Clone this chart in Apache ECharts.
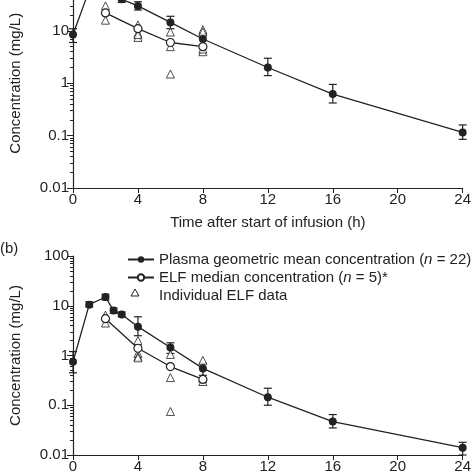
<!DOCTYPE html>
<html>
<head>
<meta charset="utf-8">
<script src="https://cdn.jsdelivr.net/npm/echarts@6/dist/echarts.min.js"></script>
<style>html,body{margin:0;padding:0;background:#fff;overflow:hidden}#chart{position:absolute;left:0;top:-29px;width:474px;height:503px}</style>
</head>
<body>
<div id="chart"></div>
<script>
// panel (a) - top, partly cut off
var timeA = [0, 1, 2, 2.5, 3, 4, 6, 8, 12, 16, 24];
var plasmaA = [8.5, 60, 90, 50, 40, 30, 14.5, 7, 2, 0.62, 0.115];
var plasmaA_lo = [6, 50, 78, 44, 35, 25, 11, 5.5, 1.4, 0.42, 0.085];
var plasmaA_hi = [11, 72, 104, 57, 46, 36, 19, 8.5, 3, 0.95, 0.16];
var elfTimeA = [2, 4, 6, 8];
var elfA = [22, 11, 6, 5];
var indivA = [[2, 16], [2, 30], [4, 13], [4, 9], [4, 7.5], [4, 8.5], [6, 9.5], [6, 5], [6, 1.5], [8, 10.5], [8, 9.5], [8, 4], [8, 4.5]];

// panel (b) - bottom
var timeB = [0, 1, 2, 2.5, 3, 4, 6, 8, 12, 16, 24];
var plasmaB = [0.75, 10.5, 15, 8, 6.7, 3.8, 1.45, 0.55, 0.145, 0.047, 0.014];
var plasmaB_lo = [0.45, 9.5, 13, 7, 6, 2.5, 1.1, 0.4, 0.1, 0.035, 0.01];
var plasmaB_hi = [1.2, 12, 17, 9, 7.5, 6, 1.8, 0.7, 0.22, 0.065, 0.018];
var elfTimeB = [2, 4, 6, 8];
var elfB = [5.5, 1.4, 0.6, 0.33];
var indivB = [[2, 6.5], [2, 4.5], [4, 2], [4, 1.1], [4, 0.95], [4, 0.9], [6, 1.05], [6, 0.36], [6, 0.075], [8, 0.8], [8, 0.3], [8, 0.35]];

var ink = '#222';
var font = 'Liberation Sans, Arial, sans-serif';

function pairs(xs, ys) { return xs.map(function (x, i) { return [x, ys[i]]; }); }
function bars(xs, lo, hi) { return xs.map(function (x, i) { return [x, lo[i], hi[i]]; }); }

function errRender(params, api) {
  var p1 = api.coord([api.value(0), api.value(1)]);
  var p2 = api.coord([api.value(0), api.value(2)]);
  var w = 4;
  var st = { stroke: ink, lineWidth: 1.2 };
  return { type: 'group', children: [
    { type: 'line', shape: { x1: p1[0], y1: p1[1], x2: p2[0], y2: p2[1] }, style: st },
    { type: 'line', shape: { x1: p1[0] - w, y1: p1[1], x2: p1[0] + w, y2: p1[1] }, style: st },
    { type: 'line', shape: { x1: p2[0] - w, y1: p2[1], x2: p2[0] + w, y2: p2[1] }, style: st }
  ]};
}

function xAxis(gi, showName) {
  return {
    gridIndex: gi, type: 'value', min: 0, max: 24, interval: 4,
    name: showName ? 'Time after start of infusion (h)' : '',
    nameLocation: 'middle', nameGap: 27,
    nameTextStyle: { fontSize: 15, color: ink, fontFamily: font },
    axisLine: { lineStyle: { color: ink, width: 1.2 } },
    axisTick: { length: 5, lineStyle: { color: ink } },
    axisLabel: { fontSize: 15, color: ink, fontFamily: font, margin: 4 },
    splitLine: { show: false }
  };
}
function yAxis(gi) {
  return {
    gridIndex: gi, type: 'log', logBase: 10, min: 0.01, max: 100,
    name: 'Concentration (mg/L)', nameLocation: 'middle', nameGap: 50,
    nameTextStyle: { fontSize: 15, color: ink, fontFamily: font },
    axisLine: { show: true, lineStyle: { color: ink, width: 1.2 } },
    axisTick: { show: true, length: 6, lineStyle: { color: ink } },
    minorTick: { show: true, splitNumber: 9, length: 3, lineStyle: { color: ink } },
    axisLabel: { fontSize: 15, color: ink, fontFamily: font, margin: 4,
      formatter: function (v) { return String(+v.toPrecision(3)); } },
    splitLine: { show: false }
  };
}

function seriesFor(gi, t, p, lo, hi, et, e, ind, named) {
  return [
    { type: 'custom', xAxisIndex: gi, yAxisIndex: gi, renderItem: errRender, data: bars(t, lo, hi), z: 1, silent: true },
    { name: named ? 'plasma' : null, type: 'line', xAxisIndex: gi, yAxisIndex: gi, data: pairs(t, p),
      symbol: 'circle', symbolSize: 8, itemStyle: { color: ink }, lineStyle: { color: ink, width: 1.3 }, z: 3 },
    { name: named ? 'elf' : null, type: 'line', xAxisIndex: gi, yAxisIndex: gi, data: pairs(et, e),
      symbol: 'circle', symbolSize: 8, itemStyle: { color: '#fff', borderColor: ink, borderWidth: 1.2 },
      lineStyle: { color: ink, width: 1.3 }, z: 4 },
    { name: named ? 'indiv' : null, type: 'scatter', xAxisIndex: gi, yAxisIndex: gi, data: ind,
      symbol: 'triangle', symbolSize: 8, itemStyle: { color: '#fff', borderColor: ink, borderWidth: 1 }, z: 2 }
  ];
}

var labels = {
  plasma: '{t|Plasma geometric mean concentration (}{i|n}{t| = 22)}',
  elf: '{t|ELF median concentration (}{i|n}{t| = 5)*}',
  indiv: '{t|Individual ELF data}'
};

var chart = echarts.init(document.getElementById('chart'));
chart.setOption({
  animation: false,
  grid: [
    { left: 66, right: 8, top: 0, height: 217 },
    { left: 66, right: 8, top: 285, height: 216 }
  ],
  xAxis: [xAxis(0, true), xAxis(1, false)],
  yAxis: [yAxis(0), yAxis(1)],
  legend: {
    orient: 'vertical', left: 122, top: 276, itemGap: 3, itemWidth: 26, itemHeight: 8,
    data: ['plasma', 'elf', { name: 'indiv', icon: 'none' }],
    formatter: function (n) { return labels[n]; },
    textStyle: { rich: {
      t: { fontSize: 15, color: ink, fontFamily: font },
      i: { fontSize: 15, color: ink, fontFamily: font, fontStyle: 'italic' }
    } }
  },
  graphic: [
    { type: 'text', left: 0, top: 270, style: { text: '(b)', fontSize: 15, fill: ink, fontFamily: font } },
    { type: 'polygon', shape: { points: [[135, 318], [139, 325], [131, 325]] },
      style: { fill: '#fff', stroke: ink, lineWidth: 1 } }
  ],
  series: seriesFor(0, timeA, plasmaA, plasmaA_lo, plasmaA_hi, elfTimeA, elfA, indivA, false)
    .concat(seriesFor(1, timeB, plasmaB, plasmaB_lo, plasmaB_hi, elfTimeB, elfB, indivB, true))
});
</script>
</body>
</html>
